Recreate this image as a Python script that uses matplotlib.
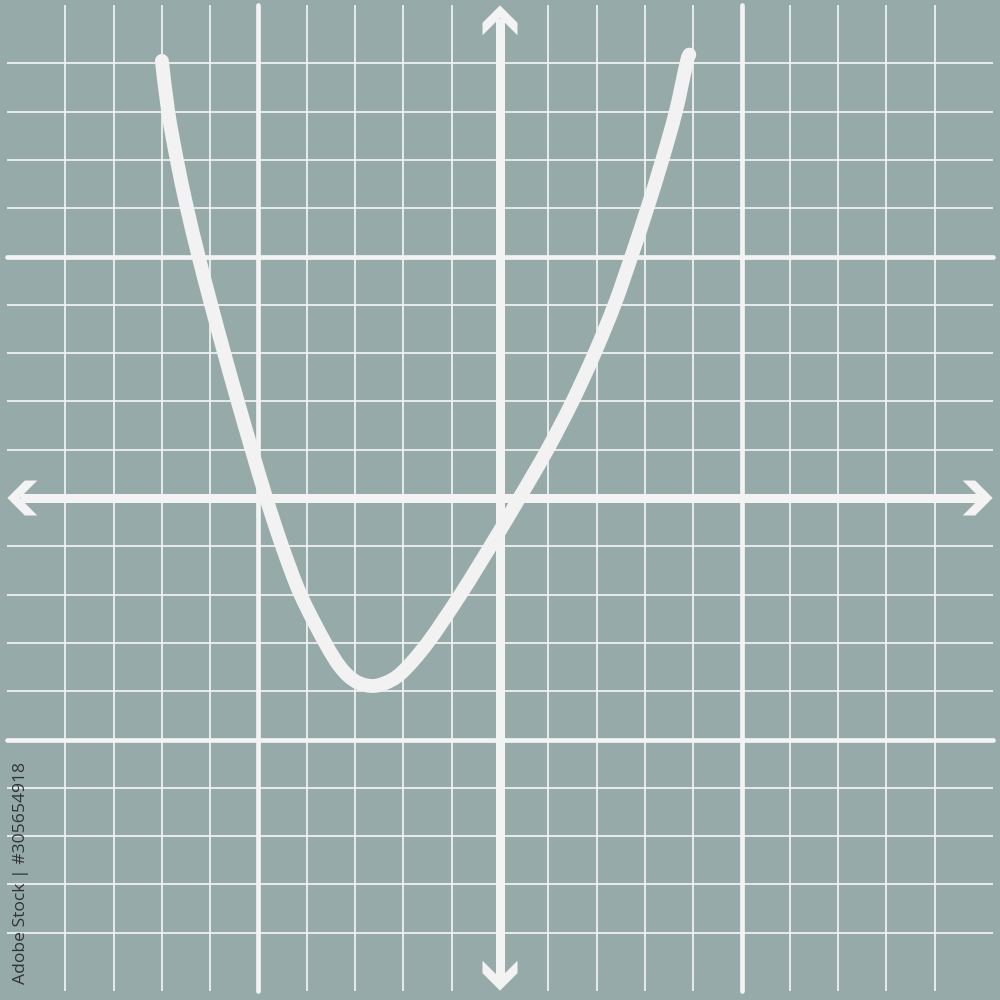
import matplotlib
matplotlib.use("Agg")
import matplotlib.pyplot as plt
from matplotlib.patches import Polygon, PathPatch
from matplotlib.path import Path
import numpy as np

# ---- data (grid units) ----
curve_x = [-7.00, -6.87, -6.69, -6.48, -6.24, -5.98, -5.71, -5.43, -5.14, -4.84,
           -4.51, -4.13, -3.62, -3.30, -3.00, -2.69, -2.40, -2.04, -1.50,
           -0.82, -0.20, 0.40, 0.98, 1.50, 1.96, 2.37, 2.72, 3.05, 3.36, 3.64, 3.86, 3.92]
curve_y = [9.05, 8.00, 7.00, 6.00, 5.00, 4.00, 3.00, 2.00, 1.00, 0.00,
           -1.00, -2.00, -3.00, -3.51, -3.79, -3.89, -3.84, -3.62, -3.00,
           -2.00, -1.00, 0.00, 1.00, 2.00, 3.00, 4.00, 5.00, 6.00, 7.00, 8.00, 9.00, 9.18]
minor_ticks = [-9, -8, -7, -6, -4, -3, -2, -1, 1, 2, 3, 4, 6, 7, 8, 9]
major_ticks = [-5, 5]
caption = "Adobe Stock | #305654918"

# ---- style ----
BG = "#96aaaa"
LINE = "#f3f3f3"
PX = 48.3                      # pixels per grid unit
EXT = 10.2                     # extent of grid / axes
XLIM = (-500 / PX, 500 / PX)
YLIM = (-502 / PX, 498 / PX)

fig = plt.figure(figsize=(10, 10), dpi=100)
fig.patch.set_facecolor(BG)
ax = fig.add_axes([0, 0, 1, 1])
ax.set_facecolor(BG)
ax.set_xlim(*XLIM)
ax.set_ylim(*YLIM)
ax.axis("off")

# thin grid
ax.vlines(minor_ticks, -EXT, EXT, colors=LINE, linewidth=1.25, zorder=1)
ax.hlines(minor_ticks, -EXT, EXT, colors=LINE, linewidth=1.25, zorder=1)
# thicker lines at +-5
lc1 = ax.vlines(major_ticks, -EXT, EXT, colors=LINE, linewidth=3.4, zorder=2)
lc2 = ax.hlines(major_ticks, -EXT, EXT, colors=LINE, linewidth=3.4, zorder=2)
for lc in (lc1, lc2):
    lc.set_capstyle("round")

# axes with chevron arrowheads
W = 17.5 / PX   # half width of arrowhead
C = 12.5 / PX   # thickness along axis
ax.plot([-EXT + C, EXT - C], [0, 0], color=LINE, linewidth=6.5,
        solid_capstyle="butt", zorder=3)
ax.plot([0, 0], [-EXT + C, EXT - C], color=LINE, linewidth=6.5,
        solid_capstyle="butt", zorder=3)

def chevron(direction):
    dx, dy = direction
    px, py = -dy, dx
    tip = np.array([dx * EXT, dy * EXT])
    d = np.array([dx, dy], float)
    p = np.array([px, py], float)
    pts = [tip,
           tip - d * W + p * W,
           tip - d * (W + C) + p * W,
           tip - d * C,
           tip - d * (W + C) - p * W,
           tip - d * W - p * W]
    return Polygon(pts, closed=True, facecolor=LINE, edgecolor="none", zorder=3)

for dvec in [(1, 0), (-1, 0), (0, 1), (0, -1)]:
    ax.add_patch(chevron(dvec))

# curve: smooth path (Catmull-Rom as cubic Bezier) through the read points
P = np.column_stack([curve_x, curve_y])
verts = [P[0]]
codes = [Path.MOVETO]
n = len(P)
for i in range(n - 1):
    p0 = P[i - 1] if i > 0 else P[i]
    p1 = P[i]
    p2 = P[i + 1]
    p3 = P[i + 2] if i + 2 < n else P[i + 1]
    c1 = p1 + (p2 - p0) / 6.0
    c2 = p2 - (p3 - p1) / 6.0
    verts += [c1, c2, p2]
    codes += [Path.CURVE4] * 3
patch = PathPatch(Path(verts, codes), facecolor="none", edgecolor="#f2f2f2",
                  linewidth=10, capstyle="round", joinstyle="round", zorder=4)
ax.add_patch(patch)

# caption
fig.text(0.0215, 0.127, caption, rotation=90, ha="center", va="center",
         fontsize=12.6, color="#333333", family=["Open Sans", "DejaVu Sans"])

fig.savefig("out.png", dpi=100, facecolor=BG)
